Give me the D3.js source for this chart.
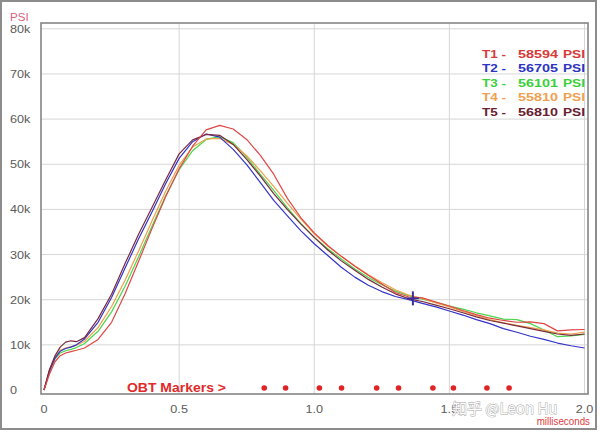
<!DOCTYPE html>
<html><head><meta charset="utf-8">
<script src="https://cdn.jsdelivr.net/npm/d3@7"></script>
<style>
html,body{margin:0;padding:0;background:#fff;}
svg{display:block;font-family:"Liberation Sans",Arial,sans-serif;}
</style></head>
<body><svg id="c" width="600" height="432"></svg>
<script>
// ---- data ----
const times = [0,0.02,0.04,0.06,0.08,0.1,0.12,0.15,0.2,0.25,0.3,0.35,0.4,0.45,0.5,0.55,0.6,0.65,0.7,0.75,0.8,0.85,0.9,0.95,1.0,1.05,1.1,1.15,1.2,1.25,1.3,1.35,1.4,1.45,1.5,1.55,1.6,1.65,1.7,1.75,1.8,1.85,1.9,1.95,2.0];
const t1 = [0,3.5,6.2,7.6,8.2,8.5,8.8,9.3,11.2,15.0,21.3,28.5,35.8,42.8,49.0,54.0,57.6,58.6,57.8,55.5,52.0,47.8,42.5,38.2,34.8,32.0,29.6,27.4,25.4,23.5,21.6,20.6,20.4,19.5,18.6,17.6,16.7,15.9,15.4,15.0,15.1,14.7,13.1,13.3,13.4];
const t2 = [0,4.2,7.0,8.6,9.2,9.5,10.0,11.3,15.0,20.5,27.0,33.5,39.5,45.7,51.3,55.0,56.7,56.0,53.3,49.9,46.0,42.0,38.6,35.3,32.4,29.8,27.2,25.0,23.2,21.8,20.7,20.0,19.2,18.4,17.5,16.6,15.6,14.7,13.6,12.8,11.9,11.2,10.4,9.8,9.3];
const t3 = [0,4.0,6.8,8.2,8.7,9.0,9.4,10.3,13.0,17.3,23.0,29.5,36.3,43.0,48.8,53.0,55.5,56.1,54.8,51.6,47.8,44.2,40.4,36.9,33.8,31.3,29.0,26.8,24.9,23.3,21.9,20.9,20.1,19.4,18.6,17.9,17.1,16.4,15.7,15.6,14.7,13.3,11.8,12.0,12.3];
const t4 = [0,4.2,7.2,8.8,9.3,9.6,9.9,10.8,13.8,18.5,24.3,30.8,37.5,44.0,49.8,53.8,55.6,55.7,54.4,51.9,48.6,45.1,41.4,37.9,34.6,31.9,29.6,27.5,25.5,23.8,22.2,21.0,20.3,19.3,18.4,17.4,16.5,15.6,14.9,14.3,13.8,13.3,12.6,12.4,12.8];
const t5 = [0,4.5,7.5,9.5,10.6,10.9,10.7,11.6,15.8,21.2,28.0,34.5,40.5,46.5,52.3,55.4,56.6,56.4,54.4,51.1,47.4,43.5,40.0,36.8,33.8,31.0,28.6,26.5,24.5,22.8,21.3,20.2,19.6,18.8,18.0,17.1,16.2,15.4,14.8,14.2,13.6,13.0,12.4,12.1,12.4];
const seriesNames = ["T1","T2","T3","T4","T5"];
const peakValues = [58594,56705,56101,55810,56810];
const yTicks = [0,10,20,30,40,50,60,70,80];
const yTickLabels = ["0","10k","20k","30k","40k","50k","60k","70k","80k"];
const xTicks = [0,0.5,1.0,1.5,2.0];
const xTickLabels = ["0","0.5","1.0","1.5","2.0"];
const obtMarkers = [0.815,0.894,1.019,1.101,1.231,1.312,1.439,1.515,1.639,1.721];
const cursorPoint = [1.365,20.3];

// ---- styles ----
const colors = ["#e04646","#3434c8","#4cd64c","#efa049","#7a2a3c"];
const textColors = ["#d83a3a","#2c34c0","#3ccf3c","#f0a050","#6a2030"];

const svg = d3.select("#c");
const x = d3.scaleLinear().domain([0,2]).range([44,584.5]);
const y = d3.scaleLinear().domain([0,80]).range([390,28.8]);
const L = 41, R = 588, T = 23, B = 394;

// outer border
svg.append("rect").attr("x",1).attr("y",1).attr("width",595).attr("height",428)
  .attr("fill","#fff").attr("stroke","#8c8c8c").attr("stroke-width",2);

// gridlines
svg.append("g").selectAll("line").data(yTicks.filter(d=>d>0)).join("line")
  .attr("x1",L).attr("x2",R).attr("y1",d=>y(d)).attr("y2",d=>y(d))
  .attr("stroke","#d6d6d6").attr("stroke-width",1);
svg.append("g").selectAll("line").data(xTicks.filter(d=>d>0)).join("line")
  .attr("y1",T).attr("y2",B).attr("x1",d=>x(d)).attr("x2",d=>x(d))
  .attr("stroke","#d6d6d6").attr("stroke-width",1);

// plot frame
svg.append("rect").attr("x",L).attr("y",T).attr("width",R-L).attr("height",B-T)
  .attr("fill","none").attr("stroke","#858585").attr("stroke-width",1.6);

function stext(g, str, px, py, opts){
  return g.append("text").attr("transform",`translate(${px},${py}) scale(${opts.sx||1.15},1)`)
    .attr("text-anchor",opts.anchor||"start").attr("font-size",opts.size||12)
    .attr("font-weight",opts.weight||"normal").attr("fill",opts.fill||"#555")
    .text(str);
}

// y labels
yTicks.forEach((v,i)=>{ stext(svg, yTickLabels[i], 10, y(v)+4, {size:11.5, fill:"#5a5a5a", sx:1.1}); });
// x labels
xTicks.forEach((v,i)=>{ stext(svg, xTickLabels[i], x(v), 413, {size:11.5, fill:"#5a5a5a", anchor:"middle", sx:1.1}); });

// PSI unit
stext(svg, "PSI", 10, 21, {size:11, fill:"#e0607a", sx:1.05});
// milliseconds
stext(svg, "milliseconds", 590, 425, {size:10, fill:"#e03c3c", anchor:"end", sx:0.98});

// lines
const line = d3.line().x((d,i)=>x(times[i])).y(d=>y(d)).curve(d3.curveLinear);
const allSeries = [t1,t2,t3,t4,t5];
const drawOrder = [2,3,1,4,0];
drawOrder.forEach(k=>{
  svg.append("path").datum(allSeries[k]).attr("d",line)
    .attr("fill","none").attr("stroke",colors[k]).attr("stroke-width",1.2)
    .attr("stroke-linejoin","round");
});

// cursor cross
const cx = x(cursorPoint[0]), cy = y(cursorPoint[1]);
svg.append("line").attr("x1",cx).attr("x2",cx).attr("y1",cy-7).attr("y2",cy+7).attr("stroke","#3a2f9a").attr("stroke-width",2);
svg.append("line").attr("x1",cx-6).attr("x2",cx+6).attr("y1",cy).attr("y2",cy).attr("stroke","#3a2f9a").attr("stroke-width",1.8);

// OBT markers
svg.append("text").attr("x",127).attr("y",392).attr("font-size",12).attr("font-weight","bold")
  .attr("fill","#e22a2a").attr("textLength",99).attr("lengthAdjust","spacingAndGlyphs").text("OBT Markers >");
svg.append("g").selectAll("circle").data(obtMarkers).join("circle")
  .attr("cx",d=>x(d)).attr("cy",y(0)-2).attr("r",2.8).attr("fill","#e02424");

// legend
const lg = svg.append("g");
seriesNames.forEach((n,i)=>{
  const by = 58 + i*14.4;
  lg.append("text").attr("x",482).attr("y",by).attr("font-size",11.5).attr("font-weight","bold")
    .attr("fill",textColors[i]).attr("textLength",24).attr("lengthAdjust","spacingAndGlyphs").text(n+" -");
  lg.append("text").attr("x",518).attr("y",by).attr("font-size",11.5).attr("font-weight","bold")
    .attr("fill",textColors[i]).attr("textLength",40).attr("lengthAdjust","spacingAndGlyphs").text(String(peakValues[i]));
  lg.append("text").attr("x",563).attr("y",by).attr("font-size",11.5).attr("font-weight","bold")
    .attr("fill",textColors[i]).attr("textLength",22).attr("lengthAdjust","spacingAndGlyphs").text("PSI");
});

// watermark (overlays the axis labels, as in the reference)
svg.append("text").attr("x",452).attr("y",414).attr("font-size",15)
  .attr("font-family","'Noto Sans CJK SC','Noto Sans',sans-serif")
  .attr("fill","#ffffff").attr("stroke","#9a9a9a").attr("stroke-width",0.9).attr("paint-order","stroke")
  .attr("opacity",0.9).text("知乎 @Leon Hu");
</script></body></html>
